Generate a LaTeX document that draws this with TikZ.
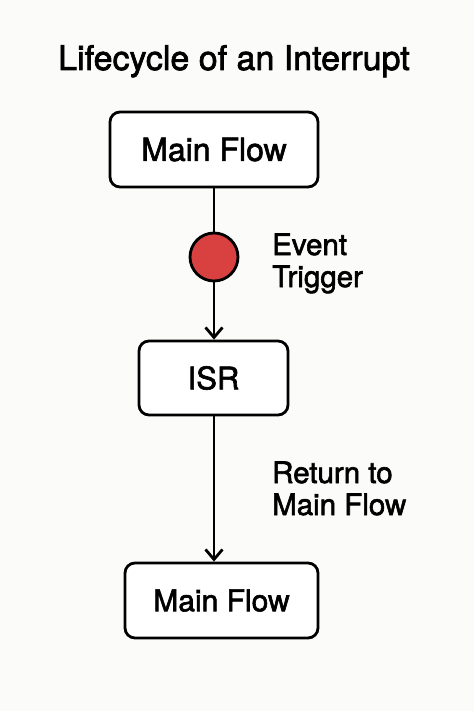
\documentclass[tikz,border=0pt]{standalone}
\usepackage{fontspec}
\setmainfont{TeX Gyre Heros}[FakeBold=2]
\usetikzlibrary{arrows.meta}
\definecolor{bg}{HTML}{FBFBFA}
\definecolor{evred}{HTML}{D94141}
\begin{document}
\begin{tikzpicture}[x=1pt,y=-1pt,
  box/.style={draw=black,line width=2.8pt,rounded corners=10pt,fill=white,inner sep=0pt},
  conn/.style={line width=2.8pt,draw=black},
  arr/.style={conn,-{Straight Barb[length=10pt,width=17pt,line width=2.8pt]}},
  lbl/.style={anchor=base west,inner sep=0pt,font=\fontsize{29.5}{32}\selectfont,align=left}]
\fill[bg] (0,0) rectangle (474,711);
\useasboundingbox (0,0) rectangle (474,711);
\node[anchor=base,inner sep=0pt,font=\fontsize{34}{40}\selectfont] (title) at (234,70) {Lifecycle of an Interrupt};
\node[box,minimum width=208pt,minimum height=75pt,font=\fontsize{32}{36}\selectfont] (top) at (214,149.5) {Main Flow};
\node[draw=black,line width=2.8pt,circle,fill=evred,minimum size=48pt,inner sep=0pt] (ev) at (214,257) {};
\node[box,minimum width=149pt,minimum height=74pt,font=\fontsize{31}{36}\selectfont] (isr) at (213.5,378) {ISR};
\node[box,minimum width=193pt,minimum height=75pt,font=\fontsize{30}{34}\selectfont] (bot) at (221.5,600.5) {Main Flow};
\node[lbl] (evl) at (272,287) {Event\\Trigger};
\node[lbl] (retl) at (272,515) {Return to\\Main Flow};
\draw[conn] (top.south -| ev) -- (ev.north);
\draw[arr] (ev.south) -- (isr.north -| ev);
\draw[arr] (isr.south -| ev) -- (bot.north -| ev);
\end{tikzpicture}
\end{document}
